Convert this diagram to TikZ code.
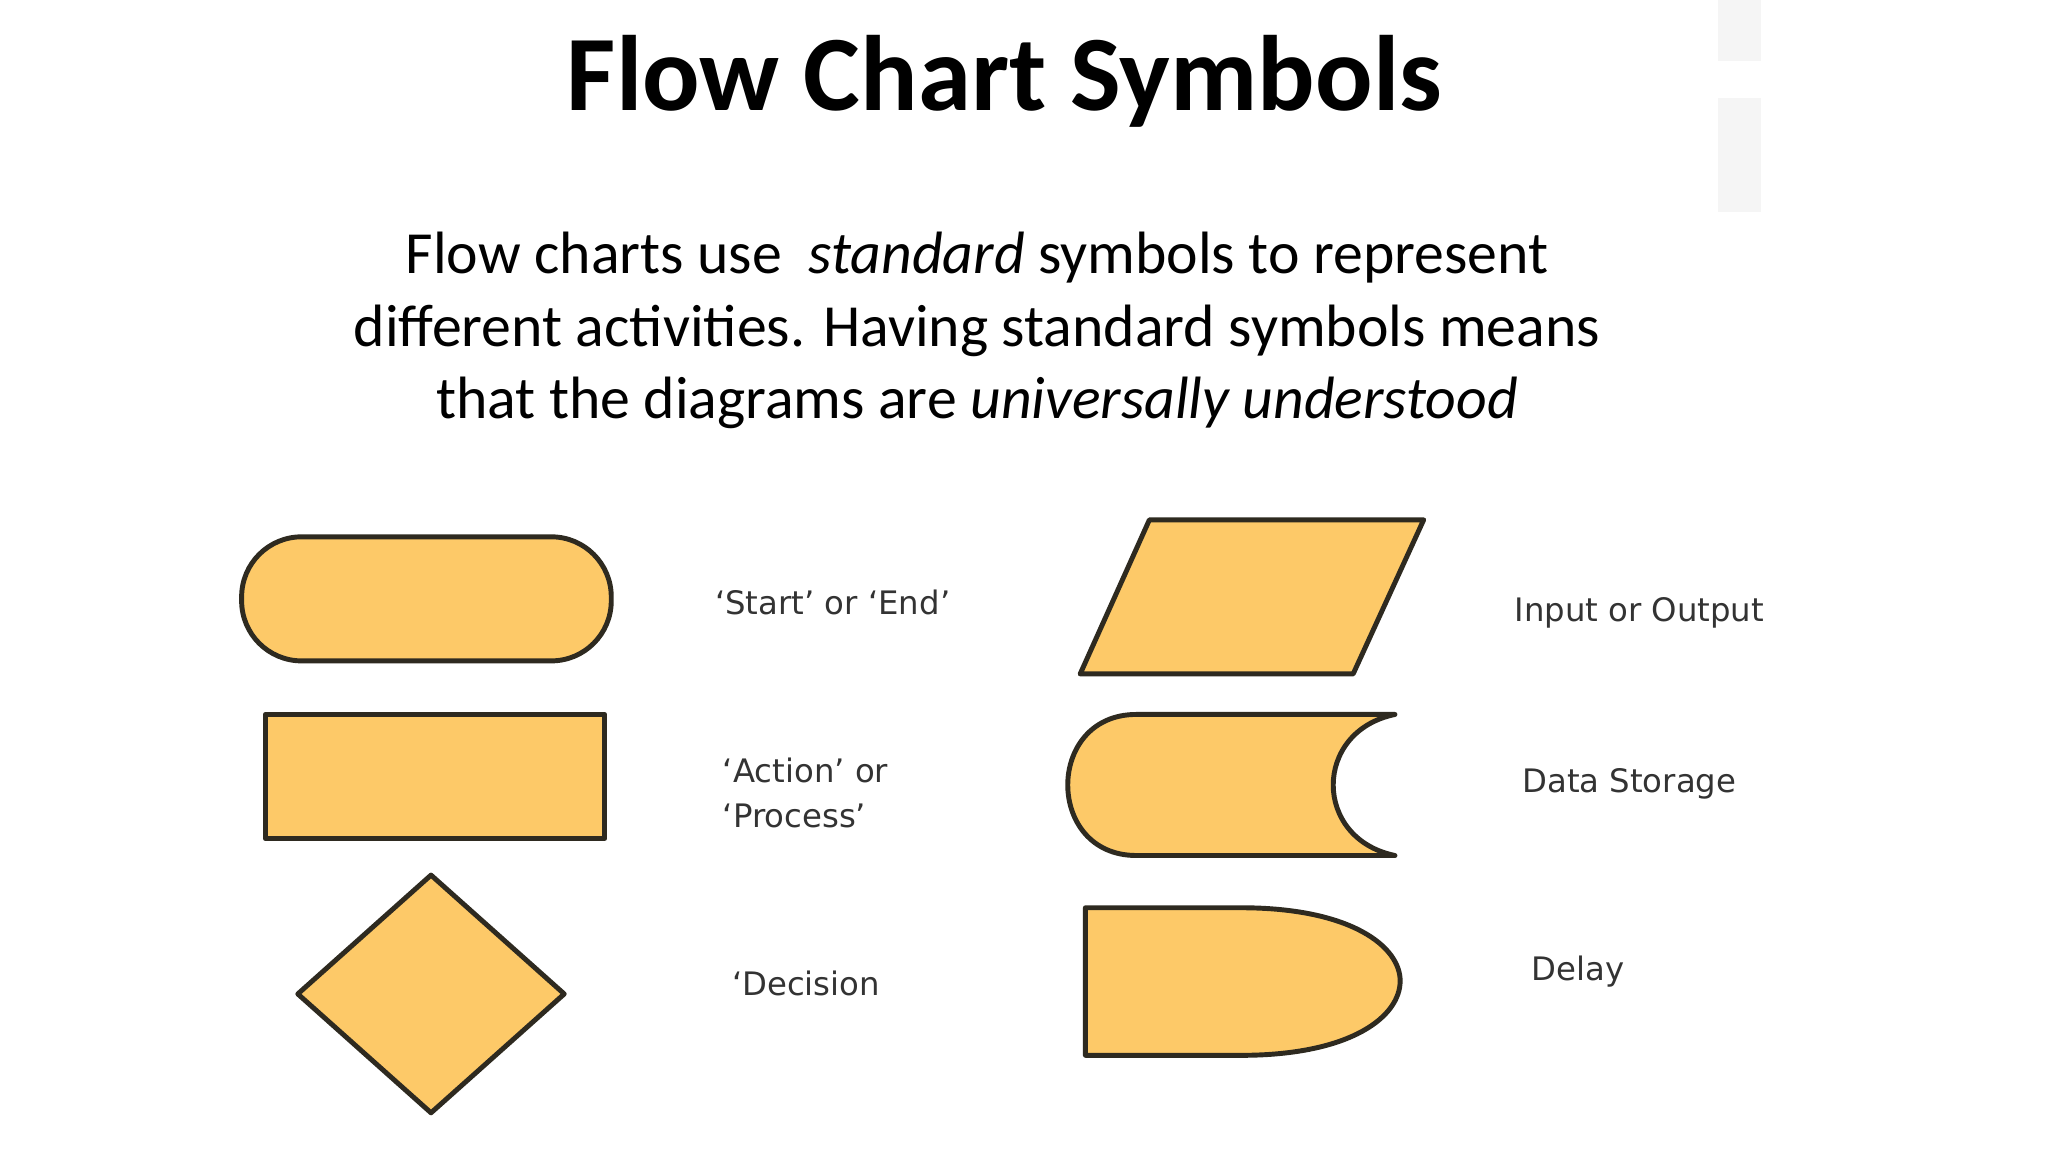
\documentclass[tikz,border=0pt]{standalone}
\usepackage{fontspec}
\setmainfont{Carlito}
\newfontfamily\lab{DejaVu Sans}
\definecolor{sfill}{HTML}{FDC968}
\definecolor{sline}{HTML}{2E2A20}
\definecolor{labc}{HTML}{333333}
\begin{document}
\begin{tikzpicture}[x=0.013061cm,y=-0.013061cm,
  sym/.style={fill=sfill,draw=sline,line width=1.4pt,line join=round},
  lbl/.style={font=\lab\fontsize{9.2}{13}\selectfont,text=labc,anchor=west,align=left}]
\useasboundingbox (0,0) rectangle (1568,882);
\fill[white] (0,0) rectangle (1568,882);
\fill[black!4] (1315,0) rectangle (1348,47);
\fill[black!4] (1315,75) rectangle (1348,162);
\node[font=\fontsize{30.5}{36}\selectfont\bfseries] (title) at (769,62) {Flow Chart Symbols};
\node[align=center,font=\fontsize{17}{20.6}\selectfont] (para) at (748,253) {Flow charts use \ \textit{standard} symbols to represent\\ different activities. Having standard symbols means\\ that the diagrams are \textit{universally understood}};
\draw[sym,rounded corners=0.6cm] (185,411) coordinate (term) rectangle (468,506);
\draw[sym] (203,547) coordinate (proc) rectangle (463,642);
\draw[sym] (330,670) coordinate (dec) -- (432,761) -- (330,852) -- (228,761) -- cycle;
\draw[sym] (827,516) coordinate (io) -- (1036,516) -- (1090,398) -- (880,398) -- cycle;
\draw[sym] (870,547) coordinate (ds) -- (1068,547) .. controls (1005,560) and (1005,642) .. (1068,655) -- (870,655) .. controls (800,655) and (800,547) .. (870,547) -- cycle;
\draw[sym] (831,695) coordinate (dl) -- (950,695) .. controls (1035,695) and (1072,725) .. (1072,751) .. controls (1072,778) and (1035,808) .. (950,808) -- (831,808) -- cycle;
\node[lbl] (l1) at (538,461) {‘Start’ or ‘End’};
\node[lbl] (l2) at (544,607) {‘Action’ or\\‘Process’};
\node[lbl] (l3) at (551,753) {‘Decision};
\node[lbl] (l4) at (1150,469) {Input or Output};
\node[lbl] (l5) at (1156,600) {Data Storage};
\node[lbl] (l6) at (1163,744) {Delay};
\end{tikzpicture}
\end{document}
